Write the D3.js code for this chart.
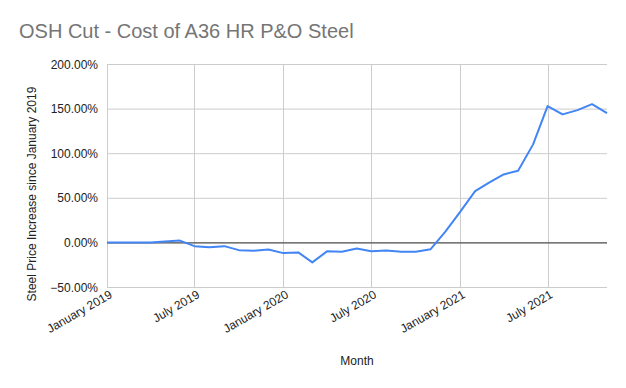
<!DOCTYPE html>
<html>
<head>
<meta charset="utf-8">
<script src="https://cdn.jsdelivr.net/npm/d3@7"></script>
<style>
  body { margin: 0; background: #fff; }
  text { font-family: "Liberation Sans", Arial, sans-serif; }
</style>
</head>
<body>
<div id="chart"></div>
<script>
// monthly points, first of each month
var months = [
  '2019-01', '2019-02', '2019-03', '2019-04', '2019-05', '2019-06',
  '2019-07', '2019-08', '2019-09', '2019-10', '2019-11', '2019-12',
  '2020-01', '2020-02', '2020-03', '2020-04', '2020-05', '2020-06',
  '2020-07', '2020-08', '2020-09', '2020-10', '2020-11', '2020-12',
  '2021-01', '2021-02', '2021-03', '2021-04', '2021-05', '2021-06',
  '2021-07', '2021-08', '2021-09', '2021-10', '2021-11'
];
var increase = [
  0, 0, 0, 0, 1.0, 2.0,
  -4.2, -5.3, -4.2, -8.7, -9.4, -7.9,
  -12.0, -11.2, -22.4, -9.8, -10.5, -6.9,
  -9.8, -9.0, -10.5, -10.5, -7.6, 11.9,
  34.3, 57.5, 66.8, 76.2, 80.3, 109.9,
  152.8, 143.5, 148.3, 155.0, 144.9
];
var y_ticks = [-50, 0, 50, 100, 150, 200];
var x_ticks = ['2019-01', '2019-07', '2020-01', '2020-07', '2021-01', '2021-07'];

var width = 626, height = 388;
var margin = {left: 107, right: 19, top: 64, bottom: 101};
var parse = d3.timeParse('%Y-%m');
var data = months.map(function(m, i){ return {date: parse(m), value: increase[i]}; });

var svg = d3.select('#chart').append('svg').attr('width', width).attr('height', height);

var x = d3.scaleTime()
    .domain([parse('2019-01'), parse('2021-11')])
    .range([margin.left, width - margin.right]);
var y = d3.scaleLinear()
    .domain([-50, 200])
    .range([height - margin.bottom, margin.top]);

// gridlines
svg.append('g').selectAll('line').data(y_ticks).enter().append('line')
    .attr('x1', margin.left).attr('x2', width - margin.right)
    .attr('y1', function(d){ return y(d) + 0.5; }).attr('y2', function(d){ return y(d) + 0.5; })
    .attr('stroke', '#cccccc');
svg.append('g').selectAll('line').data(x_ticks).enter().append('line')
    .attr('x1', function(d){ return Math.round(x(parse(d))) + 0.5; })
    .attr('x2', function(d){ return Math.round(x(parse(d))) + 0.5; })
    .attr('y1', margin.top).attr('y2', height - margin.bottom)
    .attr('stroke', '#cccccc');

// y labels
svg.append('g').selectAll('text').data(y_ticks).enter().append('text')
    .attr('x', margin.left - 9).attr('y', function(d){ return y(d) + 4.5; })
    .attr('text-anchor', 'end').attr('font-size', 12).attr('fill', '#222')
    .text(function(d){ return d3.format('.2f')(d) + '%'; });

// x labels
var fmt = d3.timeFormat('%B %Y');
svg.append('g').selectAll('text').data(x_ticks).enter().append('text')
    .attr('transform', function(d){
      return 'translate(' + (x(parse(d)) + 6) + ',' + (height - margin.bottom + 10) + ') rotate(-30)';
    })
    .attr('text-anchor', 'end').attr('font-size', 12).attr('fill', '#222')
    .text(function(d){ return fmt(parse(d)); });

// zero line
svg.append('line')
    .attr('x1', margin.left).attr('x2', width - margin.right)
    .attr('y1', y(0) + 0.5).attr('y2', y(0) + 0.5)
    .attr('stroke', '#333');

// series
var line = d3.line()
    .x(function(d){ return x(d.date); })
    .y(function(d){ return y(d.value); });
svg.append('path').datum(data)
    .attr('d', line)
    .attr('fill', 'none')
    .attr('stroke', '#4285f4')
    .attr('stroke-width', 2)
    .attr('stroke-linejoin', 'round');

// titles
svg.append('text').attr('x', 19).attr('y', 38)
    .attr('font-size', 20).attr('fill', '#757575')
    .text('OSH Cut - Cost of A36 HR P&O Steel');
svg.append('text').attr('x', (margin.left + width - margin.right) / 2).attr('y', 365)
    .attr('text-anchor', 'middle').attr('font-size', 12).attr('fill', '#222')
    .text('Month');
svg.append('text')
    .attr('transform', 'translate(36,194) rotate(-90)')
    .attr('text-anchor', 'middle').attr('font-size', 12).attr('fill', '#222')
    .text('Steel Price Increase since January 2019');
</script>
</body>
</html>
